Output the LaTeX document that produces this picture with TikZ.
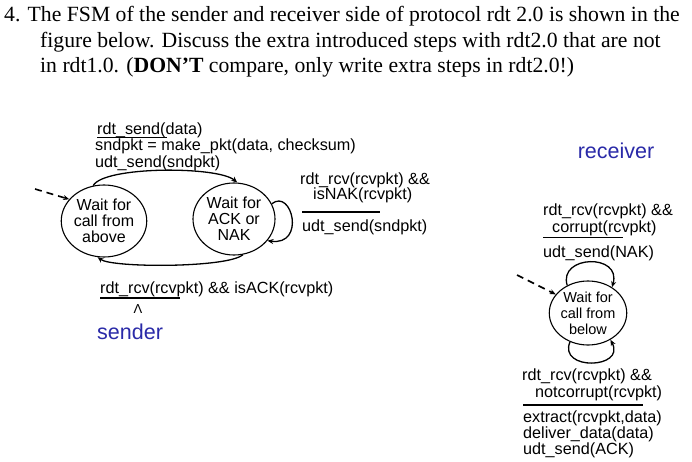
\documentclass[tikz,border=0pt]{standalone}
\usepackage{fontspec}
\setmainfont{Liberation Sans}
\newfontfamily\titlefont{Liberation Serif}
\usetikzlibrary{shapes.geometric,arrows.meta}
\definecolor{fsmblue}{RGB}{42,42,168}
\tikzset{
  lbl/.style={anchor=base west,inner sep=0pt,font=\fontsize{16.2}{16}\selectfont},
  ttl/.style={anchor=base west,inner sep=0pt,font=\titlefont\fontsize{21.7}{24}\selectfont},
  state/.style={draw,ellipse,line width=1.1pt,inner sep=0pt,align=center,font=\fontsize{16}{16}\selectfont},
  trans/.style={line width=1.3pt,-{Stealth[length=6pt,width=5pt]}},
  init/.style={line width=1.6pt,dash pattern=on 7pt off 5pt,-{Stealth[length=6pt,width=5pt]}},
  sep/.style={line width=1.1pt},
  side/.style={anchor=base west,inner sep=0pt,text=fsmblue,font=\fontsize{21.5}{22}\selectfont}
}
\begin{document}
\begin{tikzpicture}[x=1pt,y=-1pt]
\useasboundingbox[fill=white] (0,0) rectangle (692,462);
% title
\node[ttl] (t1) at (4,22) {4. The FSM of the sender and receiver side of protocol rdt 2.0 is shown in the};
\node[ttl] (t2) at (40,48) {figure below. Discuss the extra introduced steps with rdt2.0 that are not};
\node[ttl] (t3) at (40,73) {in rdt1.0. (\textbf{DON’T} compare, only write extra steps in rdt2.0!)};
% sender states
\node[state,minimum width=84pt,minimum height=72pt] (s1) at (104,221) {Wait for\\call from\\above};
\node[state,minimum width=82pt,minimum height=72pt] (s2) at (234,219) {Wait for\\ACK or\\NAK};
\coordinate (d1) at (35,189);
\draw[init] (d1) -- (s1.148);
\draw[trans] (s1.107) .. controls (104,166) and (218,166) .. (s2.85);
\draw[trans] (s2.-76) .. controls (228,268) and (112,268) .. (s1.-100);
\draw[trans] (s2.22) .. controls (292,188) and (306,246) .. (s2.-33);
% sender labels
\node[lbl] (a1) at (97,134.5) {rdt\_send(data)};
\draw[sep] (97,137.5) -- (167,137.5);
\node[lbl] (a2) at (95,151) {sndpkt = make\_pkt(data, checksum)};
\node[lbl] (a3) at (95,168) {udt\_send(sndpkt)};
\node[lbl] (b1) at (300,185) {rdt\_rcv(rcvpkt) \&\&};
\node[lbl] (b2) at (313,200) {isNAK(rcvpkt)};
\draw[sep] (302,212) -- (380,212);
\node[lbl] (b3) at (302,231) {udt\_send(sndpkt)};
\node[lbl] (c1) at (100,293) {rdt\_rcv(rcvpkt) \&\& isACK(rcvpkt)};
\draw[sep] (100,298) -- (180,298);
\node[inner sep=0pt,font=\fontsize{13}{13}\selectfont] (c2) at (138,309) {Λ};
\node[side] (snd) at (97,339) {sender};
% receiver
\node[side,anchor=base] (rcv) at (616,159) {receiver};
\node[lbl] (e1) at (543,215) {rdt\_rcv(rcvpkt) \&\&};
\node[lbl] (e2) at (552,232) {corrupt(rcvpkt)};
\draw[sep] (543,237.5) -- (623,237.5);
\node[lbl] (e3) at (543,257) {udt\_send(NAK)};
\node[state,minimum width=72pt,minimum height=64pt,font=\fontsize{14.5}{16}\selectfont] (r) at (588,313) {Wait for\\call from\\below};
\coordinate (d2) at (517,275);
\draw[init] (d2) -- (r.150);
\draw[trans] (r.127) .. controls (558,255) and (622,253) .. (r.47);
\draw[trans] (r.-122) .. controls (558,371) and (626,369) .. (r.-50);
\node[lbl] (f1) at (522,380) {rdt\_rcv(rcvpkt) \&\&};
\node[lbl] (f2) at (535,397) {notcorrupt(rcvpkt)};
\draw[sep] (523,405) -- (643,405);
\node[lbl] (f3) at (523,422) {extract(rcvpkt,data)};
\node[lbl] (f4) at (523,438) {deliver\_data(data)};
\node[lbl] (f5) at (523,454) {udt\_send(ACK)};
\end{tikzpicture}
\end{document}
